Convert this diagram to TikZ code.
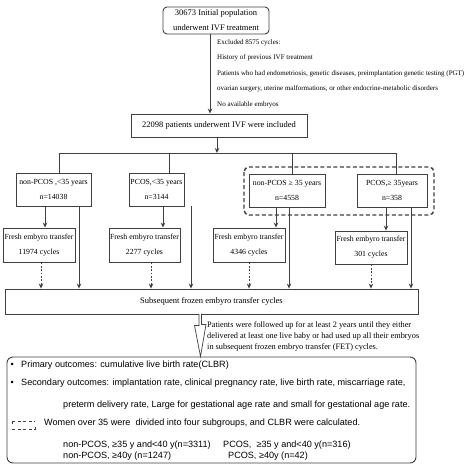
\documentclass[tikz,border=0pt]{standalone}
\usepackage{fontspec}
\setmainfont{Liberation Serif}
\newfontfamily\arialf{Liberation Sans}
\usetikzlibrary{arrows.meta}
\definecolor{ln}{gray}{0.25}
\tikzset{
  x=1pt,y=-1pt,
  boxa/.style={draw=ln, line width=0.9pt, inner sep=0pt, align=center, font=\fontsize{8.5}{15}\selectfont},
  boxb/.style={draw=ln, line width=0.9pt, inner sep=0pt, align=center, font=\fontsize{7.8}{15}\selectfont},
  arr/.style={-{Stealth[length=5pt,width=4.5pt]}, draw=ln, line width=0.9pt},
  dotarr/.style={arr, dash pattern=on 1.8pt off 1.6pt},
  plain/.style={draw=ln, line width=0.9pt},
  txt/.style={anchor=west, inner sep=0pt},
  sans/.style={txt, font=\arialf\fontsize{9.1}{11}\selectfont},
}
\begin{document}
\begin{tikzpicture}
\useasboundingbox (0,0) rectangle (474,474);
\fill[white] (0,0) rectangle (474,474);

% top
\node[boxa, rounded corners=4pt, minimum width=106pt, minimum height=27pt] (top) at (216,20.5) {30673 Initial population\\underwent IVF treatment};
\node[txt, anchor=north west, align=left, font=\fontsize{7}{15.6}\selectfont] (excl) at (217,39)
 {Excluded 8575 cycles:\\History of previous IVF treatment\\Patients who had endometriosis, genetic diseases, preimplantation genetic testing (PGT)\\ovarian surgery, uterine malformations, or other endocrine-metabolic disorders\\No available embryos};
\node[boxa, minimum width=176pt, minimum height=23pt] (incl) at (219,125.5) {22098 patients underwent IVF were included};

% groups
\node[boxb, minimum width=75pt, minimum height=33pt] (b1) at (53.5,189.5) {non-PCOS ,<35 years\\n=14038};
\node[boxb, minimum width=55pt, minimum height=33pt] (b2) at (156.5,189.5) {PCOS,<35 years\\n=3144};
\node[boxb, minimum width=76pt, minimum height=33pt] (b3) at (287,190.5) {non-PCOS ≥ 35 years\\n=4558};
\node[boxb, minimum width=70pt, minimum height=33pt] (b4) at (392,190.5) {PCOS,≥ 35years\\n=358};
\draw[plain, dash pattern=on 4pt off 2.5pt, line width=1.4pt, rounded corners=5pt] (244,167) rectangle (434,215);

% fresh
\node[boxb, minimum width=72pt, minimum height=34pt] (f1) at (39,245) {Fresh embyro transfer\\11974 cycles};
\node[boxb, minimum width=71pt, minimum height=34pt] (f2) at (144.5,245) {Fresh embyro transfer\\2277 cycles};
\node[boxb, minimum width=72pt, minimum height=34pt] (f3) at (249,245) {Fresh embyro transfer\\4346 cycles};
\node[boxb, minimum width=72pt, minimum height=33pt] (f4) at (371,247.5) {Fresh embyro transfer\\301 cycles};

\node[boxa, minimum width=413pt, minimum height=25pt] (sub) at (211.5,301.5) {Subsequent frozen embyro transfer cycles};

% connectors
\coordinate (xa) at (210,0);
\coordinate (xb) at (217,0);
\coordinate (split) at (217,153);
\coordinate (sl) at (59,153);
\coordinate (sr) at (396,153);
\draw[arr] (top.south -| xa) -- (incl.north -| xa);
\draw[arr] (incl.south -| xb) -- (split);
\draw[plain] (sl) -- (sr);
\coordinate (v1) at (59,0); \coordinate (v2) at (169,0);
\coordinate (v3) at (292,0); \coordinate (v4) at (396,0);
\draw[plain] (sl) -- (b1.north -| v1);
\draw[plain] (split -| v2) -- (b2.north -| v2);
\draw[plain] (split -| v3) -- (b3.north -| v3);
\draw[plain] (sr) -- (b4.north -| v4);

\foreach \g/\f/\xa/\xs/\xd in {b1/f1/45/79/41, b2/f2/163/191/151, b3/f3/276/289/249, b4/f4/386/411/371}{
  \coordinate (ca) at (\xa,0);
  \coordinate (cs) at (\xs,0);
  \coordinate (cd) at (\xd,0);
  \draw[arr] (\g.south -| ca) -- (\f.north -| ca);
  \draw[arr] (\g.south -| cs) -- (sub.north -| cs);
  \draw[dotarr] (\f.south -| cd) -- (sub.north -| cd);
}

% outcomes box
\node[draw=ln, line width=0.9pt, rounded corners=6pt, minimum width=409pt, minimum height=106pt, inner sep=0pt] (out) at (211.5,410) {};

% hollow arrow
\coordinate (ha) at (200.5,0);
\draw[plain, line width=0.7pt, fill=white] (sub.south -| ha) ++(-1.5,0) -- ++(0,11) -- ++(-4.5,0) -- (out.north -| ha) -- ++(5.5,-32) -- ++(-4.5,0) -- ++(0,-11);

\node[txt, anchor=north west, align=left, font=\fontsize{8.3}{11.3}\selectfont] (follow) at (207,321)
 {Patients were followed up for at least 2 years until they either\\delivered at least one live baby or had used up all their embryos\\in subsequent frozen embryo transfer (FET) cycles.};

\node[sans] (bu1) at (10.5,365) {•};
\node[sans] (t1) at (21,365) {Primary outcomes: cumulative live birth rate(CLBR)};
\node[sans] (bu2) at (10.5,383) {•};
\node[sans] (t2) at (21,383) {Secondary outcomes: implantation rate, clinical pregnancy rate, live birth rate, miscarriage rate,};
\node[sans] (t3) at (63,405) {preterm delivery rate, Large for gestational age rate and small for gestational age rate.};
\draw[plain, line width=1pt, dash pattern=on 3pt off 2.5pt] (12,421) -- (35,421);
\draw[plain, line width=1pt, dash pattern=on 3pt off 2.5pt] (12,429.5) -- (35,429.5);
\draw[plain, line width=1pt] (12,421) -- (12,423.5);
\draw[plain, line width=1pt] (35,427) -- (35,429.5);
\node[sans] (t4) at (44,423) {Women over 35 were\ \ divided into four subgroups, and CLBR were calculated.};
\node[sans] (t5) at (63,445) {non-PCOS, ≥35 y and<40 y(n=3311)};
\node[sans] (t6) at (223,445) {PCOS,\ \ ≥35 y and<40 y(n=316)};
\node[sans] (t7) at (63,456) {non-PCOS, ≥40y (n=1247)};
\node[sans] (t8) at (228,456) {PCOS, ≥40y (n=42)};
\end{tikzpicture}
\end{document}
